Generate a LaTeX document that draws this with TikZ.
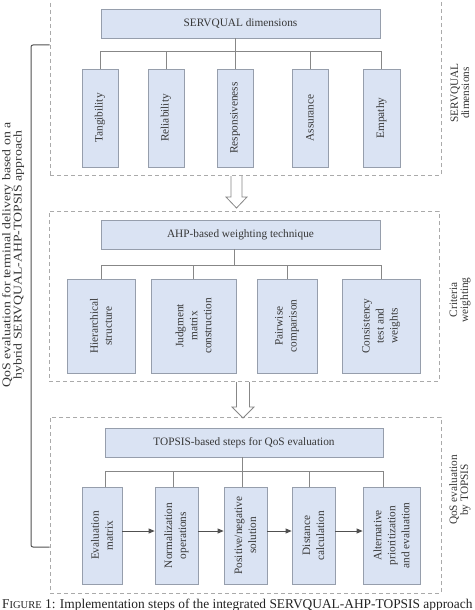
\documentclass[tikz,border=0pt]{standalone}
\usepackage{fontspec}
\usepackage{graphicx}
\setmainfont{Liberation Serif}
\usetikzlibrary{arrows.meta}
\definecolor{boxfill}{RGB}{218,227,243}
\definecolor{boxline}{RGB}{150,158,172}
\definecolor{connline}{RGB}{135,135,135}
\definecolor{dashline}{RGB}{170,170,170}
\definecolor{txt}{RGB}{55,55,55}
\definecolor{brk}{RGB}{80,80,80}
\begin{document}
\begin{tikzpicture}[x=1pt,y=-1pt,
  every node/.style={text=txt, font=\fontsize{11.3}{14}\selectfont},
  hbox/.style={draw=boxline, fill=boxfill, line width=0.8pt, inner sep=0pt, minimum height=29pt},
  vbox/.style={draw=boxline, fill=boxfill, line width=0.8pt, inner sep=0pt},
  vtext/.style={rotate=90, align=center},
  panel/.style={draw=dashline, dash pattern=on 4pt off 3pt, line width=0.8pt, inner sep=0pt},
  conn/.style={draw=connline, line width=0.8pt},
  flow/.style={draw=brk, line width=0.8pt, -{Triangle[length=6pt,width=5pt]}},
  hollow/.style={draw=connline, fill=white, line width=0.8pt, line join=miter},
  side/.style={rotate=90, align=center, font=\fontsize{11.3}{11}\selectfont},
]
\useasboundingbox (0,0) rectangle (474,610);
\clip (0,0) rectangle (474,610);
\fill[white] (0,0) rectangle (474,610);

% panels
\node[panel, minimum width=391pt, minimum height=185pt] (p1) at (245.5,82.5) {};
\node[panel, minimum width=390pt, minimum height=170pt] (p2) at (244,296) {};
\node[panel, minimum width=391pt, minimum height=176pt] (p3) at (245.5,505) {};

% ---- panel 1
\node[hbox, minimum width=279pt] (h1) at (240.5,23.5) {SERVQUAL dimensions};
\node[vbox, minimum width=36pt, minimum height=98pt, label={[vtext]center:Tangibility}] (t1) at (100,118) {};
\node[vbox, minimum width=36pt, minimum height=98pt, label={[vtext]center:Reliability}] (r2) at (166,118) {};
\node[vbox, minimum width=36pt, minimum height=98pt, label={[vtext]center:Responsiveness}] (r3) at (235,118) {};
\node[vbox, minimum width=36pt, minimum height=98pt, label={[vtext]center:Assurance}] (a4) at (310,118) {};
\node[vbox, minimum width=37pt, minimum height=98pt, label={[vtext]center:Empathy}] (e5) at (381.5,118) {};
\coordinate (bus1) at (0,51);
\draw[conn] (t1.north) |- (e5.north |- bus1) -- (e5.north);
\foreach \n in {r2,a4} \draw[conn] (\n.north) -- (\n.north |- bus1);
\draw[conn] (h1.south -| r3.north) -- (r3.north);
\node[side] (s1) at (460,93) {SERVQUAL\\dimensions};

% ---- panel 2
\node[hbox, minimum width=279pt] (h2) at (240.5,234.5) {AHP-based weighting technique};
\node[vbox, minimum width=68pt, minimum height=94pt, label={[vtext]center:{Hierarchical\\structure}}] (b1) at (101,326) {};
\node[vbox, minimum width=85pt, minimum height=94pt, label={[vtext]center:{Judgment\\matrix\\construction}}] (b2) at (193.5,326) {};
\node[vbox, minimum width=60pt, minimum height=94pt, label={[vtext]center:{Pairwise\\comparison}}] (b3) at (287,326) {};
\node[vbox, minimum width=78pt, minimum height=94pt, label={[vtext]center:{Consistency\\test and\\weights}}] (b4) at (381,326) {};
\coordinate (bus2) at (0,265);
\draw[conn] (b1.north) |- (b4.north |- bus2) -- (b4.north);
\foreach \n in {b2,b3} \draw[conn] (\n.north) -- (\n.north |- bus2);
\draw[conn] ([xshift=-6.5pt]h2.south) -- ([xshift=-6.5pt]h2.south |- bus2);
\node[side] (s2) at (460,300) {Criteria\\weighting};

% ---- panel 3
\node[hbox, minimum width=278pt] (h3) at (244,442.5) {TOPSIS-based steps for QoS evaluation};
\node[vbox, minimum width=40pt, minimum height=97pt, label={[vtext]center:{Evaluation\\matrix}}] (c1) at (102,535.5) {};
\node[vbox, minimum width=43pt, minimum height=97pt, label={[vtext]center:{Normalization\\operations}}] (c2) at (176.5,535.5) {};
\node[vbox, minimum width=43pt, minimum height=97pt, label={[vtext]center:{Positive/negative\\solution}}] (c3) at (245.5,535.5) {};
\node[vbox, minimum width=43pt, minimum height=97pt, label={[vtext]center:{Distance\\calculation}}] (c4) at (313.5,535.5) {};
\node[vbox, minimum width=57pt, minimum height=97pt, label={[vtext]center:{Alternative\\prioritization\\and evaluation}}] (c5) at (391.5,535.5) {};
\coordinate (bus3) at (0,471);
\draw[conn] ([xshift=3pt]c1.north) |- ([xshift=-8.5pt]c5.north |- bus3) -- ([xshift=-8.5pt]c5.north);
\draw[conn] ([xshift=-3.5pt]c2.north) -- ([xshift=-3.5pt]c2.north |- bus3);
\draw[conn] ([xshift=-4.5pt]c4.north) -- ([xshift=-4.5pt]c4.north |- bus3);
\draw[conn] ([xshift=-2pt]h3.south) -- ([xshift=-2pt]h3.south |- c3.north);
\draw[flow] ([yshift=4.5pt]c1.east) -- ([yshift=4.5pt]c2.west);
\draw[flow] ([yshift=4.5pt]c2.east) -- ([yshift=4.5pt]c3.west);
\draw[flow] ([yshift=4.5pt]c3.east) -- ([yshift=4.5pt]c4.west);
\draw[flow] ([yshift=4.5pt]c4.east) -- ([yshift=4.5pt]c5.west);
\node[side] (s3) at (460,490) {QoS evaluation\\by TOPSIS};

% ---- hollow arrows between panels
\draw[hollow] (231,176) -- (231,197) -- (226,197) -- (236.5,208) -- (247,197) -- (242,197) -- (242,176);
\draw[hollow] (236.5,382) -- (236.5,407) -- (232,407) -- (243,418) -- (254,407) -- (249.5,407) -- (249.5,382);

% ---- left bracket and title
\draw[brk, line width=1pt, rounded corners=2pt] (p1.west |- 0,45) -- (31,45) -- (31,547) -- (p3.west |- 0,547);
\node[rotate=90, inner sep=0pt] (lt) at (13.5,255) {\scalebox{1.17}[1]{\fontsize{11.8}{11}\selectfont\begin{tabular}{@{}c@{}}QoS evaluation for terminal delivery based on a\\hybrid SERVQUAL-AHP-TOPSIS approach\end{tabular}}};

% ---- caption
\node[anchor=base west, inner sep=0pt, text={rgb,255:red,35;green,35;blue,35}, font=\fontsize{13.4}{16}\selectfont] (cap) at (2,608.5) {F{\fontsize{10.5}{12}\selectfont IGURE} 1: Implementation steps of the integrated SERVQUAL-AHP-TOPSIS approach};
\end{tikzpicture}
\end{document}
